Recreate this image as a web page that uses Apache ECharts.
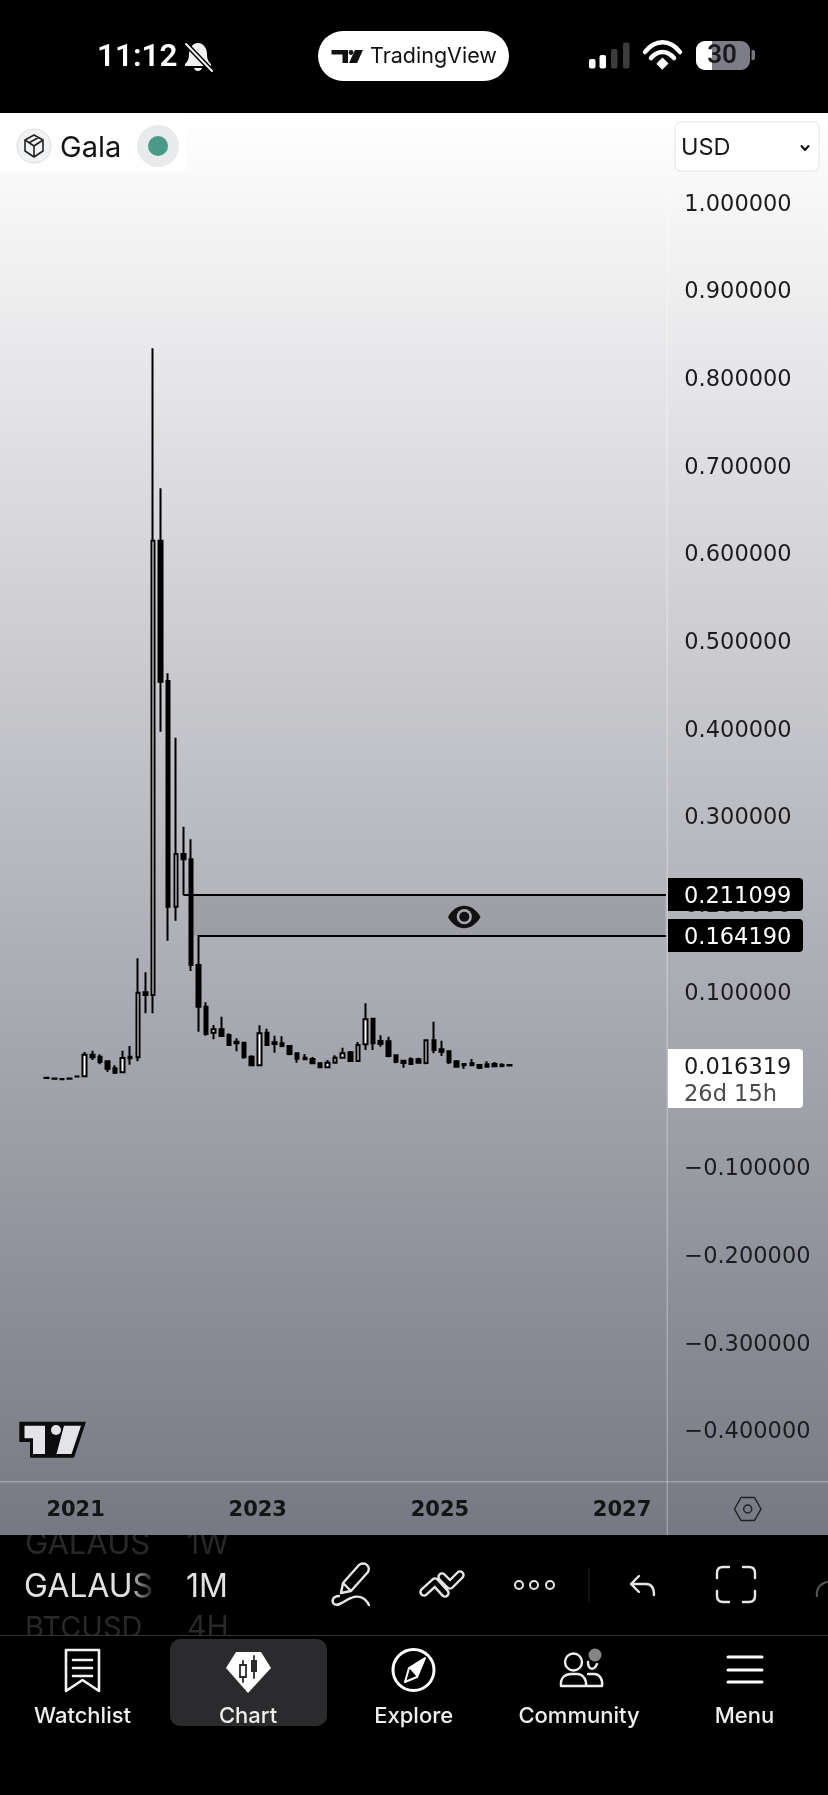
<!DOCTYPE html>
<html><head><meta charset="utf-8">
<style>html,body{margin:0;padding:0;background:#000}#c{width:828px;height:1795px}</style>
<script src="https://cdn.jsdelivr.net/npm/echarts@6/dist/echarts.min.js"></script>
</head><body><div id="c"></div>
<script>
const categories = [
 '2020-04','2020-05','2020-06','2020-07','2020-08','2020-09','2020-10','2020-11','2020-12',
 '2021-01','2021-02','2021-03','2021-04','2021-05','2021-06','2021-07','2021-08','2021-09','2021-10','2021-11','2021-12',
 '2022-01','2022-02','2022-03','2022-04','2022-05','2022-06','2022-07','2022-08','2022-09','2022-10','2022-11','2022-12',
 '2023-01','2023-02','2023-03','2023-04','2023-05','2023-06','2023-07','2023-08','2023-09','2023-10','2023-11','2023-12',
 '2024-01','2024-02','2024-03','2024-04','2024-05','2024-06','2024-07','2024-08','2024-09','2024-10','2024-11','2024-12',
 '2025-01','2025-02','2025-03','2025-04','2025-05','2025-06','2025-07','2025-08','2025-09','2025-10','2025-11','2025-12',
 '2026-01','2026-02','2026-03','2026-04','2026-05','2026-06','2026-07','2026-08','2026-09','2026-10','2026-11','2026-12',
 '2027-01','2027-02','2027-03','2027-04','2027-05','2027-06'];
const firstCandleIndex = 5;
const opens = [.0021,.0014,.0007,.0014,.0037,.0039,.0285,.0262,.021,.013,.0084,.0262,.0255,.0997,.0966,.6146,.4546,.1973,.2574,.2513,.1308,.0832,.0536,.0575,.051,.0433,.0422,.0262,.0164,.0536,.0426,.0415,.0384,.0301,.0251,.0236,.0187,.0141,.0194,.0251,.0312,.0213,.0404,.0696,.0441,.0438,.0278,.0217,.0233,.0233,.019,.0449,.0347,.0324,.021,.0179,.0187,.0168,.0176,.0179,.0171,.0168];
const closes = [.0019,.0012,.0005,.0012,.0035,.0285,.0255,.0202,.0125,.008,.0247,.0244,.0992,.0966,.6146,.4538,.1973,.2574,.2513,.1308,.0832,.0521,.0575,.0498,.0396,.0415,.0255,.0164,.0529,.0396,.0407,.0384,.0293,.0239,.0233,.0187,.0141,.0194,.0251,.0301,.0213,.0396,.0689,.0415,.0407,.027,.0205,.019,.0179,.0194,.0449,.0339,.0319,.0198,.0148,.0164,.0164,.0137,.0148,.0153,.0156,.0163];
const lows = [.0018,.0011,.0004,.0011,.0034,.0035,.0225,.0175,.0088,.0065,.0073,.0171,.021,.0757,.0757,.3968,.1585,.1813,.2106,.1239,.0547,.0502,.046,.0498,.0384,.0324,.0239,.0164,.0164,.0388,.0308,.0369,.0278,.0194,.0233,.0187,.013,.013,.0187,.0251,.0213,.0209,.0339,.0339,.0376,.0255,.0187,.0137,.0168,.0194,.0176,.0301,.027,.0179,.0141,.0125,.0156,.0122,.0141,.0141,.0141,.0161];
const highs = [.0022,.0015,.0008,.0015,.0038,.0316,.0331,.029,.0217,.0164,.0331,.0384,.1384,.1225,.834,.6743,.4634,.39,.2885,.2741,.165,.0882,.0624,.0718,.0529,.0472,.0433,.0278,.062,.0582,.0502,.0495,.039,.0312,.0293,.0259,.019,.0225,.0278,.0365,.0327,.043,.0871,.0696,.0506,.049,.0285,.0225,.0255,.0251,.0456,.0661,.0445,.0331,.0225,.0187,.0236,.0179,.021,.0202,.0187,.017];
const xTickMonths = ['2021-01','2023-01','2025-01','2027-01'];
const yTicks = [1,.9,.8,.7,.6,.5,.4,.3,.2,.1,0,-.1,-.2,-.3,-.4];
const zoneTop = 0.211099, zoneBottom = 0.164190, lastPrice = 0.016319;
const countdown = '26d 15h';

const candleRows = opens.map((o,i)=>[firstCandleIndex+i,o,closes[i],lows[i],highs[i]]);
const MONO = '"DejaVu Sans"', UI = 'Inter, Roboto, sans-serif';
const g = [];
let pathCount = 0;
const rect = (x,y,w,h,fill,r,z,extra)=>g.push({type:'rect',silent:true,z:z??60,shape:{x,y,width:w,height:h,r:r||0},style:Object.assign({fill},extra||{})});
const text = (t,x,y,size,fill,opt)=>{opt=opt||{};g.push({type:'text',silent:true,z:opt.z??70,x,y,style:{text:t,fill,fontSize:size,fontFamily:opt.family||UI,fontWeight:opt.weight||400,align:opt.align||'left',verticalAlign:'middle',textAlign:opt.align||'left',textVerticalAlign:'middle'}})};
const path = (d,fill,stroke,lw,z)=>{const name='uiPath'+(pathCount++);echarts.graphic.registerShape(name,echarts.graphic.extendPath(d,{}));g.push({type:name,silent:true,z:z??70,shape:{},style:{fill:fill||'none',stroke:stroke||'none',lineWidth:lw||0,lineCap:'round',lineJoin:'round'}})};
const circle = (cx,cy,r,fill,stroke,lw,z)=>g.push({type:'circle',silent:true,z:z??70,shape:{cx,cy,r},style:{fill:fill||'none',stroke:stroke||'none',lineWidth:lw||0}});

// plot surface
rect(0,113,828,1422,{type:'linear',x:0,y:0,x2:0,y2:1,colorStops:[{offset:0,color:'#ffffff'},{offset:1,color:'#767883'}]},0,-8);
rect(0,1635,828,160,'#000',0,-8);
rect(0,1481,828,1.5,'rgba(255,255,255,0.28)',0,1);
rect(666.5,113,1.5,1422,'rgba(255,255,255,0.28)',0,1);

// status bar
text('11:12',97,58,31.5,'#fff',{family:'Roboto',weight:600});
path('M198 43C204 43 207 49 207 54C207 59 208 61 211 64V66H185V64C188 61 189 59 189 54C189 49 192 43 198 43ZM194 68C195 72 201 72 202 68Z','#f2f2f2');
path('M186 44L212 71',null,'#000',5);
path('M186 44L212 71',null,'#f2f2f2',2);
rect(318,31,191,50,'#fff',25);
path('M331.5 50H348V63H342.5V54.5H331.5ZM355 50H363L357 63H349Z','#111');
circle(351,52.5,2.4,'#111');
text('TradingView',370,57,21.5,'#111');
[[589,59,'#fff'],[599.5,55,'#fff'],[611,49,'#3c3c3c'],[623,42.5,'#3c3c3c']].forEach(b=>rect(b[0],b[1],6.5,68.5-b[1],b[2],2));
path('M645 52C655 39 670 39 680 52M651 58C658 50 667 50 674 58',null,'#fff',4.5);
path('M657 63.5L662.5 58L668 63.5L662.5 69Z','#fff','#fff',1);
rect(696,41,54,29,'#7d7d88',9);
rect(696,41,16,29,'#fff',[9,0,0,9]);
rect(751.5,50,3.5,10,'#77777f',[0,2,2,0]);
text('30',722,56.5,26,'#1a1a1a',{align:'center',weight:600,family:'Roboto'});

// instrument header
rect(0,113,186,58,'rgba(255,255,255,0.8)',0,1);
circle(34,146,17,'#f1f2f4','#dcdde0',1);
path('M34 135L43 140V151L34 157L25 151V140ZM25 140L34 146L43 140M34 146V157M29.5 142.5L38.5 137.5',null,'#222',1.6);
text('Gala',60,148,29,'#131313');
circle(158,146,21,'#e9eaec');
circle(158,146,10,'#4a9a86');
rect(675,122,144,49,'#fff',6,60,{stroke:'#e3e4e8',lineWidth:1});
text('USD',681,147.5,23.5,'#1a1a1a');
path('M801.5 146L805 150L808.5 146',null,'#111',2);

// price tags
rect(668,878,135,33,'#000',[0,4,4,0]);
rect(668,919,135,33,'#000',[0,4,4,0]);
rect(668,1049,135,59,'#fff',[0,4,4,0]);
text(zoneTop.toFixed(6),684,897,22.5,'#fff',{family:MONO});
text(zoneBottom.toFixed(6),684,938,22.5,'#fff',{family:MONO});
text(lastPrice.toFixed(6),684,1068,22.5,'#1a1a1a',{family:MONO});
text(countdown,684,1095,22.5,'#4a4a4f',{family:MONO});

// zone eye
path('M448 917C456 902 472 902 480.5 917C472 932 456 932 448 917Z','#111');
circle(464.3,916.7,7.6,'#a7a8ad');
circle(464.3,916.7,5,'#111');

// logo
path('M19.3 1421.7H86L74 1457.7H30V1442H19.3Z','#0c0c0c');
path('M24.5 1425.7H45V1454H33V1438.3H24.5Z','#e4e4e8');
path('M64 1425.7H81L71.5 1454H56.5Z','#e4e4e8');
circle(56,1430,5,'#e4e4e8');

// scale button
path('M734.5 1509L741 1497.5H754.5L761 1509L754.5 1520.5H741Z',null,'#222',1.5);
circle(747.7,1509,4,null,'#222',1.5);

// symbol strip (behind the plot, clipped by it)
text('GALAUS',25,1545,31,'#28282a',{z:-9});
text('1W',187,1545,30,'#28282a',{z:-9});
text('BTCUSD',25,1628,29,'#28282a',{z:-9});
text('4H',187,1628,30,'#28282a',{z:-9});
text('GALAUS',24,1587,32,'#e2e2e2');
rect(128,1565,24,42,{type:'linear',x:0,y:0,x2:1,y2:0,colorStops:[{offset:0,color:'rgba(0,0,0,0)'},{offset:1,color:'rgba(0,0,0,0.85)'}]},0,71);
text('1M',186,1587,32,'#e2e2e2');

// drawing tools
path('M341 1593L343 1583L359 1565C361 1563 365 1563 367 1565C369 1567 369 1570 368 1572L351 1591ZM343 1583L351 1591',null,'#e6e6e6',2.4);
path('M339 1596C333 1596 331 1601 334 1604C339 1607 345 1600 351 1598C358 1595 365 1597 369 1605',null,'#e6e6e6',2.4);
path('M424 1592L435 1582L445 1593M442 1577L450 1585L460 1575',null,'#e6e6e6',9.5);
path('M424 1592L435 1582L445 1593M442 1577L450 1585L460 1575',null,'#000',4.6);
[519,534,550].forEach(x=>circle(x,1585,4,null,'#e6e6e6',2));
rect(588.5,1568,1,34,'#252525');
path('M639 1576L631 1584L639 1592M632 1584H646C651 1584 654 1587 654 1595',null,'#e6e6e6',2.4);
path('M729 1567H723C719 1567 717 1569 717 1573V1578M743 1567H749C753 1567 755 1569 755 1573V1578M717 1591V1596C717 1600 719 1602 723 1602H729M755 1591V1596C755 1600 753 1602 749 1602H743',null,'#e6e6e6',2.4);
path('M817 1596C816 1590 819 1584 827 1582',null,'#555',2.2);
rect(0,1635,828,1,'#333');

// nav
rect(170,1639,157,87,'#2b2b2d',10);
path('M66 1650H99V1691L82.5 1680L66 1691Z',null,'#f2f2f2',2.6);
path('M73 1660H92M73 1668H92M73 1676H92',null,'#f2f2f2',2.6);
path('M236 1652H261L271 1668L248 1693L226 1668Z','#fff');
path('M243 1661V1682M254 1656V1678','none','#2b2b2d',1.8);
rect(240,1665,6,12,'#fff',0,71,{stroke:'#2b2b2d',lineWidth:1.8});
rect(251,1660,6,12,'#2b2b2d',0,71);
circle(413.5,1670,20.5,null,'#fff',3);
path('M425 1658L417 1677L405 1682L409 1668Z','none','#fff',2);
path('M425 1658L417 1677L409 1668Z','#fff');
circle(573.5,1662,8.5,null,'#eee',2.4);
path('M588 1662C588 1670 594 1671 597 1664',null,'#eee',2.4);
path('M561 1686C560 1678 565 1674 571 1674H577C583 1674 587 1680 586 1686Z',null,'#eee',2.4);
path('M588 1674H594C600 1674 603 1680 602 1686H587',null,'#eee',2.4);
circle(595,1655,6.5,'#858585');
[1657,1670,1682].forEach(y=>path(`M728 ${y}H762`,null,'#fff',3));
[['Watchlist',82.5,'#eee'],['Chart',248,'#eee'],['Explore',413.7,'#eee'],['Community',579,'#eee'],['Menu',744.5,'#eee']].forEach(n=>text(n[0],n[1],1716,22,n[2],{align:'center',weight:500}));

const chart = echarts.init(document.getElementById('c'),null,{renderer:'canvas',width:828,height:1795});
chart.setOption({
  backgroundColor:'#000',
  animation:false,
  graphic:{elements:g},
  grid:{left:5,width:660.3,top:113,height:1368.7,containLabel:false},
  xAxis:{type:'category',data:categories,boundaryGap:true,
    axisLine:{show:false},axisTick:{show:false},splitLine:{show:false},
    axisLabel:{interval:(i,v)=>xTickMonths.includes(v),formatter:v=>v.slice(0,4),margin:18,padding:[0,3,0,0],
      color:'#141414',fontSize:21,fontWeight:'bold',fontFamily:MONO,hideOverlap:false}},
  yAxis:{type:'value',position:'right',min:-0.4584,max:1.1023,scale:false,
    axisLine:{show:false},axisTick:{show:false},splitLine:{show:false},
    axisLabel:{customValues:yTicks,formatter:v=>v.toFixed(6).replace('-','\u2212'),margin:19,align:'left',verticalAlign:'top',lineHeight:4,
      color:'#1c1c1e',fontSize:22.5,fontFamily:MONO,showMinLabel:true,showMaxLabel:true}},
  series:[{type:'candlestick',data:candleRows,encode:{x:0,y:[1,2,3,4]},barWidth:4,clip:false,silent:true,z:5,
    itemStyle:{color:'#ffffff',color0:'#000000',borderColor:'#000000',borderColor0:'#000000',borderWidth:2},
    markArea:{silent:true,z:1,label:{show:false},itemStyle:{color:'rgba(40,40,50,0.14)'},
      data:[[{xAxis:categories[firstCandleIndex+19],yAxis:zoneTop},{yAxis:zoneBottom}]]},
    markLine:{silent:true,symbol:'none',label:{show:false},animation:false,lineStyle:{color:'#000',width:2,type:'solid'},
      data:[[{xAxis:categories[firstCandleIndex+18],yAxis:zoneTop},{x:666,yAxis:zoneTop}],
            [{xAxis:categories[firstCandleIndex+20],yAxis:zoneBottom},{x:666,yAxis:zoneBottom}]]}
  }]
});
</script></body></html>
